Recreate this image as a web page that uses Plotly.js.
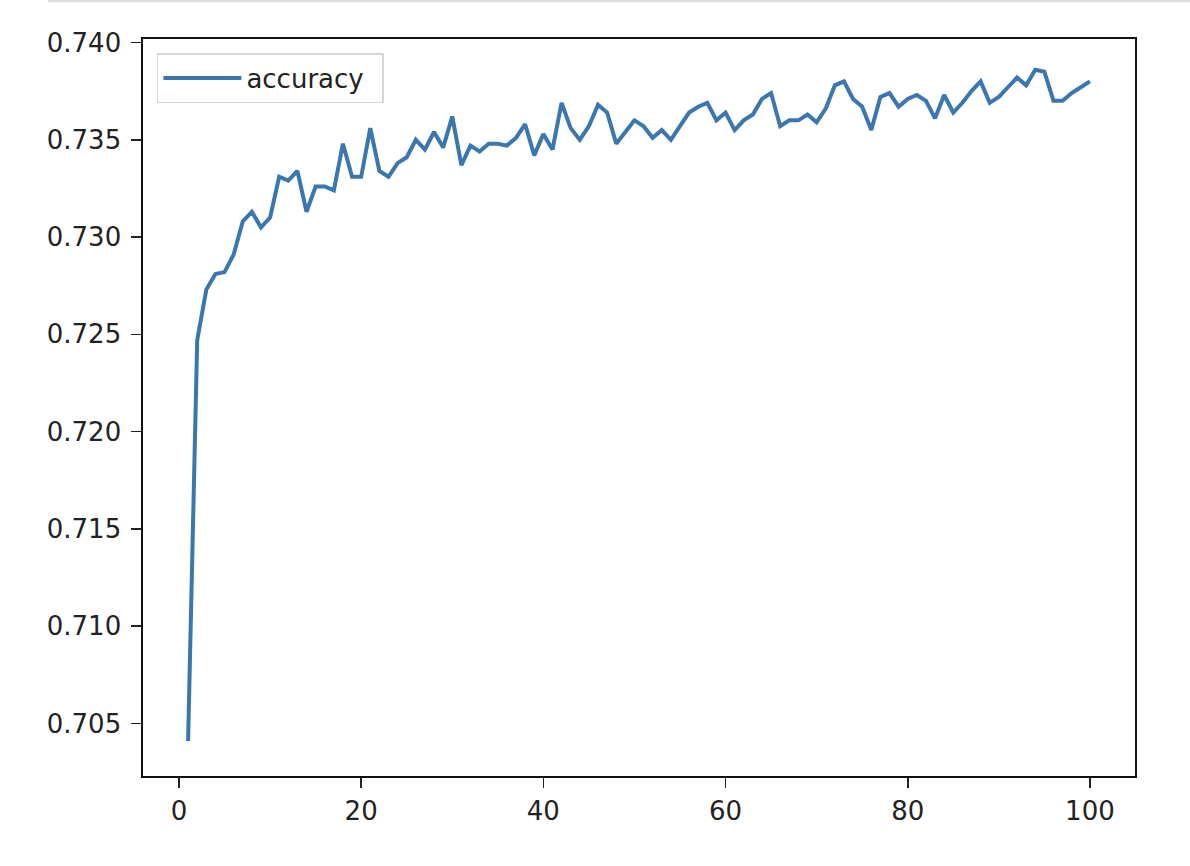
<!DOCTYPE html>
<html>
<head>
<meta charset="utf-8">
<script src="https://cdn.plot.ly/plotly-3.0.1.min.js"></script>
<style>
  html, body { margin: 0; padding: 0; background: #fff; }
  #grafico { width: 1190px; height: 866px; }
</style>
</head>
<body>
<div id="grafico"></div>
<script>
// Curva de accuracy por época (1..100), leída a ojo del gráfico original.
const epocas = Array.from({ length: 100 }, (_, i) => i + 1);

const accuracy = [
  0.7041, 0.7247, 0.7273, 0.7281, 0.7282, 0.7291, 0.7308, 0.7313, 0.7305, 0.7310,
  0.7331, 0.7329, 0.7334, 0.7313, 0.7326, 0.7326, 0.7324, 0.7348, 0.7331, 0.7331,
  0.7356, 0.7334, 0.7331, 0.7338, 0.7341, 0.7350, 0.7345, 0.7354, 0.7346, 0.7362,
  0.7337, 0.7347, 0.7344, 0.7348, 0.7348, 0.7347, 0.7351, 0.7358, 0.7342, 0.7353,
  0.7345, 0.7369, 0.7356, 0.7350, 0.7357, 0.7368, 0.7364, 0.7348, 0.7354, 0.7360,
  0.7357, 0.7351, 0.7355, 0.7350, 0.7357, 0.7364, 0.7367, 0.7369, 0.7360, 0.7364,
  0.7355, 0.7360, 0.7363, 0.7371, 0.7374, 0.7357, 0.7360, 0.7360, 0.7363, 0.7359,
  0.7366, 0.7378, 0.7380, 0.7371, 0.7367, 0.7355, 0.7372, 0.7374, 0.7367, 0.7371,
  0.7373, 0.7370, 0.7361, 0.7373, 0.7364, 0.7369, 0.7375, 0.7380, 0.7369, 0.7372,
  0.7377, 0.7382, 0.7378, 0.7386, 0.7385, 0.7370, 0.7370, 0.7374, 0.7377, 0.7380,
];

const ticksX = [0, 20, 40, 60, 80, 100];
const ticksY = [0.705, 0.710, 0.715, 0.720, 0.725, 0.730, 0.735, 0.740];

const FUENTE = 'DejaVu Sans, Liberation Sans, sans-serif';
const AZUL = '#3a76b0';

const traza = {
  type: 'scatter',
  mode: 'lines',
  x: epocas,
  y: accuracy,
  name: 'accuracy',
  line: { color: AZUL, width: 4 },
  hoverinfo: 'x+y',
};

// ejes estilo matplotlib: caja negra completa, ticks hacia afuera, sin grilla
const ejeBase = {
  showgrid: false,
  zeroline: false,
  showline: true,
  mirror: true,
  linecolor: '#111',
  linewidth: 1.6,
  ticks: 'outside',
  ticklen: 10,
  tickwidth: 1.6,
  tickcolor: '#222',
  tickfont: { family: FUENTE, size: 26, color: '#222' },
};

const layout = {
  width: 1190,
  height: 866,
  margin: { l: 143, r: 55, t: 39, b: 90 },
  paper_bgcolor: '#ffffff',
  plot_bgcolor: '#ffffff',
  font: { family: FUENTE, size: 26, color: '#222' },
  showlegend: true,
  // leyenda horizontal de un solo ítem: así entrywidth deja el margen derecho
  legend: {
    x: 0.014, y: 0.981,
    xanchor: 'left', yanchor: 'top',
    orientation: 'h',
    bgcolor: 'rgba(255,255,255,0.8)',
    bordercolor: '#d6d6d6',
    borderwidth: 1.5,
    itemwidth: 78,
    entrywidth: 131,
    entrywidthmode: 'pixels',
    font: { family: FUENTE, size: 26, color: '#222' },
  },
  xaxis: Object.assign({}, ejeBase, {
    range: [-3.95, 104.95],
    tickmode: 'array',
    tickvals: ticksX,
    ticklabelstandoff: 1,
  }),
  yaxis: Object.assign({}, ejeBase, {
    range: [0.7023, 0.74018],
    tickmode: 'array',
    tickvals: ticksY,
    ticktext: ticksY.map((v) => v.toFixed(3)),
    ticklabelstandoff: 5,
  }),
  // línea gris del borde de la celda, arriba de todo
  shapes: [{
    type: 'line',
    xref: 'paper', yref: 'paper',
    x0: -0.096, x1: 1.06,
    y0: 1.0515, y1: 1.0515,
    line: { color: '#dedede', width: 2.5 },
  }],
};

Plotly.newPlot('grafico', [traza], layout, { displayModeBar: false, staticPlot: true });
</script>
</body>
</html>
